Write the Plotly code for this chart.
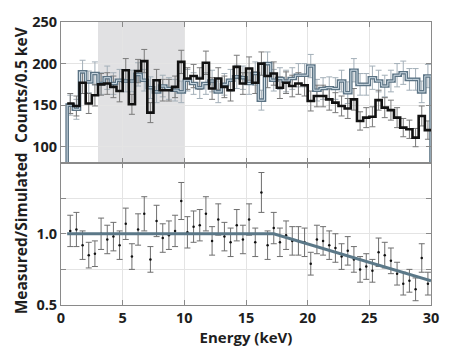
import plotly.graph_objects as go

# ---------------- data ----------------
BIN_WIDTH = 0.5
E_START = 0.5
N_BINS = 59
bin_edges = [E_START + BIN_WIDTH * i for i in range(N_BINS + 1)]
bin_centers = [e + BIN_WIDTH / 2 for e in bin_edges[:-1]]

measured = [152, 149, 177, 152, 162, 175, 176, 172, 167, 192,
            151, 191, 203, 141, 180, 168, 168, 172, 202, 182,
            185, 182, 201, 170, 182, 172, 168, 196, 176, 194,
            177, 200, 185, 188, 171, 177, 173, 176, 174, 155,
            161, 161, 157, 153, 149, 146, 157, 131, 135, 136,
            156, 147, 144, 135, 123, 121, 111, 137, 120]
measured_err = [12, 12, 13, 12, 13, 13, 13, 13, 13, 14,
                12, 14, 14, 12, 13, 13, 13, 13, 14, 13,
                14, 13, 14, 13, 13, 13, 13, 14, 13, 14,
                13, 14, 14, 14, 13, 13, 13, 13, 13, 12,
                13, 13, 13, 12, 12, 12, 13, 11, 12, 12,
                12, 12, 12, 12, 11, 11, 11, 12, 11]

simulated = [150, 145, 190, 178, 188, 176, 183, 176, 180, 179,
             179, 187, 180, 171, 166, 173, 170, 168, 166, 180,
             176, 171, 176, 179, 166, 175, 180, 184, 183, 176,
             188, 156, 200, 180, 182, 179, 182, 186, 186, 197,
             168, 170, 171, 170, 179, 165, 192, 175, 175, 183,
             179, 173, 179, 186, 189, 181, 181, 166, 185]
simulated_err = [12, 12, 14, 13, 14, 13, 14, 13, 13, 13,
                 13, 14, 13, 13, 13, 13, 13, 13, 13, 13,
                 13, 13, 13, 13, 13, 13, 13, 14, 14, 13,
                 14, 12, 14, 13, 13, 13, 13, 14, 14, 14,
                 13, 13, 13, 13, 13, 13, 14, 13, 13, 14,
                 13, 13, 13, 14, 14, 13, 13, 13, 14]

ratio = [1.02, 1.03, 0.92, 0.85, 0.86, 1.00, 0.96, 0.98, 0.92, 1.07,
         0.84, 1.03, 1.14, 0.82, 1.09, 0.97, 0.99, 1.02, 1.23, 1.01,
         1.05, 1.06, 1.14, 0.95, 1.10, 0.98, 0.94, 1.06, 0.96, 1.10,
         0.94, 1.29, 0.92, 1.04, 0.94, 0.99, 0.95, 0.95, 0.94, 0.79,
         0.96, 0.95, 0.92, 0.90, 0.84, 0.88, 0.82, 0.75, 0.77, 0.74,
         0.87, 0.85, 0.81, 0.72, 0.65, 0.67, 0.61, 0.83, 0.65]
ratio_err = [0.11, 0.12, 0.10, 0.09, 0.09, 0.11, 0.10, 0.10, 0.10, 0.11,
             0.09, 0.11, 0.12, 0.09, 0.11, 0.10, 0.10, 0.11, 0.13, 0.11,
             0.11, 0.11, 0.12, 0.10, 0.11, 0.10, 0.10, 0.11, 0.10, 0.11,
             0.10, 0.14, 0.10, 0.11, 0.10, 0.10, 0.10, 0.10, 0.10, 0.08,
             0.10, 0.10, 0.10, 0.10, 0.09, 0.10, 0.09, 0.09, 0.09, 0.08,
             0.10, 0.09, 0.09, 0.08, 0.08, 0.08, 0.08, 0.10, 0.08]

fit_x = [0.5, 17.25, 30.0]
fit_y = [1.0, 1.0, 0.67]

shade_range = [3, 10]

x_ticks = [0, 5, 10, 15, 20, 25, 30]
top_ticks = [100, 150, 200, 250]
bot_ticks = [0.5, 0.75, 1.0, 1.25, 1.5]
bot_ticktext = ["0.5", "", "1.0", "", ""]

# ---------------- helpers ----------------
def stairs(values, drop=False):
    xs = list(bin_edges[:-1]) + [bin_edges[-1]]
    ys = list(values) + [values[-1]]
    if drop:
        xs = [bin_edges[0]] + xs + [bin_edges[-1]]
        ys = [0] + ys + [0]
    return xs, ys

FONT = "Open Sans"
AX = "#8a8a8a"
GRID = "#e4e4e4"
TXT = "#1e1e1e"

fig = go.Figure()

# error bars (top)
fig.add_trace(go.Scatter(x=bin_centers, y=simulated, mode="markers",
                         marker=dict(size=1, color="rgba(0,0,0,0)"),
                         error_y=dict(type="data", array=simulated_err, color="#a3afb8",
                                      thickness=1, width=3),
                         xaxis="x", yaxis="y", showlegend=False, hoverinfo="skip"))
fig.add_trace(go.Scatter(x=bin_centers, y=measured, mode="markers",
                         marker=dict(size=1, color="rgba(0,0,0,0)"),
                         error_y=dict(type="data", array=measured_err, color="#7a7a7a",
                                      thickness=1, width=3),
                         xaxis="x", yaxis="y", showlegend=False, hoverinfo="skip"))

# simulated (tube-like steel line)
sx, sy = stairs(simulated, drop=True)
fig.add_trace(go.Scatter(x=sx, y=sy, mode="lines", line=dict(shape="hv", color="#5b7384", width=3.6),
                         xaxis="x", yaxis="y", showlegend=False, hoverinfo="skip"))
fig.add_trace(go.Scatter(x=sx, y=sy, mode="lines", line=dict(shape="hv", color="#cfdce5", width=1.0),
                         xaxis="x", yaxis="y", showlegend=False, hoverinfo="skip"))

# measured (black)
mx, my = stairs(measured)
fig.add_trace(go.Scatter(x=mx, y=my, mode="lines", line=dict(shape="hv", color="#111111", width=2.6),
                         xaxis="x", yaxis="y", showlegend=False, hoverinfo="skip"))

# bottom panel: ratio
fig.add_trace(go.Scatter(x=bin_centers, y=ratio, mode="markers",
                         marker=dict(size=2.5, color="#111111"),
                         error_y=dict(type="data", array=ratio_err, color="#6e6e6e",
                                      thickness=1, width=3),
                         xaxis="x2", yaxis="y2", showlegend=False, hoverinfo="skip"))
fig.add_trace(go.Scatter(x=fit_x, y=fit_y, mode="lines", line=dict(color="#5b7888", width=3),
                         xaxis="x2", yaxis="y2", showlegend=False, hoverinfo="skip"))

fig.add_shape(type="rect", xref="x", yref="y domain", x0=shade_range[0], x1=shade_range[1],
              y0=0, y1=1, fillcolor="#e1e1e3", line_width=0, layer="below")

split = (310 - 163) / 292.0

axis_common = dict(showline=True, linecolor=AX, linewidth=1, mirror="ticks",
                   ticks="inside", ticklen=5, tickcolor=AX, showgrid=True,
                   gridcolor=GRID, gridwidth=1, zeroline=False,
                   tickfont=dict(family=FONT, size=14.5, color=TXT, weight=700))

ytitle_font = dict(family=FONT, size=15.5, color=TXT, weight=700)

fig.update_layout(
    width=474, height=352,
    margin=dict(l=61, r=43, t=18, b=42),
    paper_bgcolor="white", plot_bgcolor="white",
    xaxis=dict(domain=[0, 1], anchor="y", range=[0, 30], tickvals=x_ticks,
               showticklabels=False, **axis_common),
    yaxis=dict(domain=[split, 1], anchor="x", range=[81, 250], tickvals=top_ticks,
               **axis_common),
    xaxis2=dict(domain=[0, 1], anchor="y2", range=[0, 30], tickvals=x_ticks, matches="x",
                title=dict(text="Energy (keV)", standoff=2,
                           font=dict(family=FONT, size=15, color=TXT, weight=700)),
                **axis_common),
    yaxis2=dict(domain=[0, split], anchor="x2", range=[0.5, 1.5], tickvals=bot_ticks,
                ticktext=bot_ticktext, **axis_common),
    annotations=[
        dict(text="Counts/0.5 keV", textangle=-90, xref="paper", yref="paper",
             x=(21 - 61) / 370.0, y=(310 - 83) / 292.0, xanchor="center", yanchor="middle",
             showarrow=False, font=ytitle_font),
        dict(text="Measured/Simulated", textangle=-90, xref="paper", yref="paper",
             x=(21 - 61) / 370.0, y=(310 - 236) / 292.0, xanchor="center", yanchor="middle",
             showarrow=False, font=ytitle_font),
    ],
)

fig.write_html("out.html")
